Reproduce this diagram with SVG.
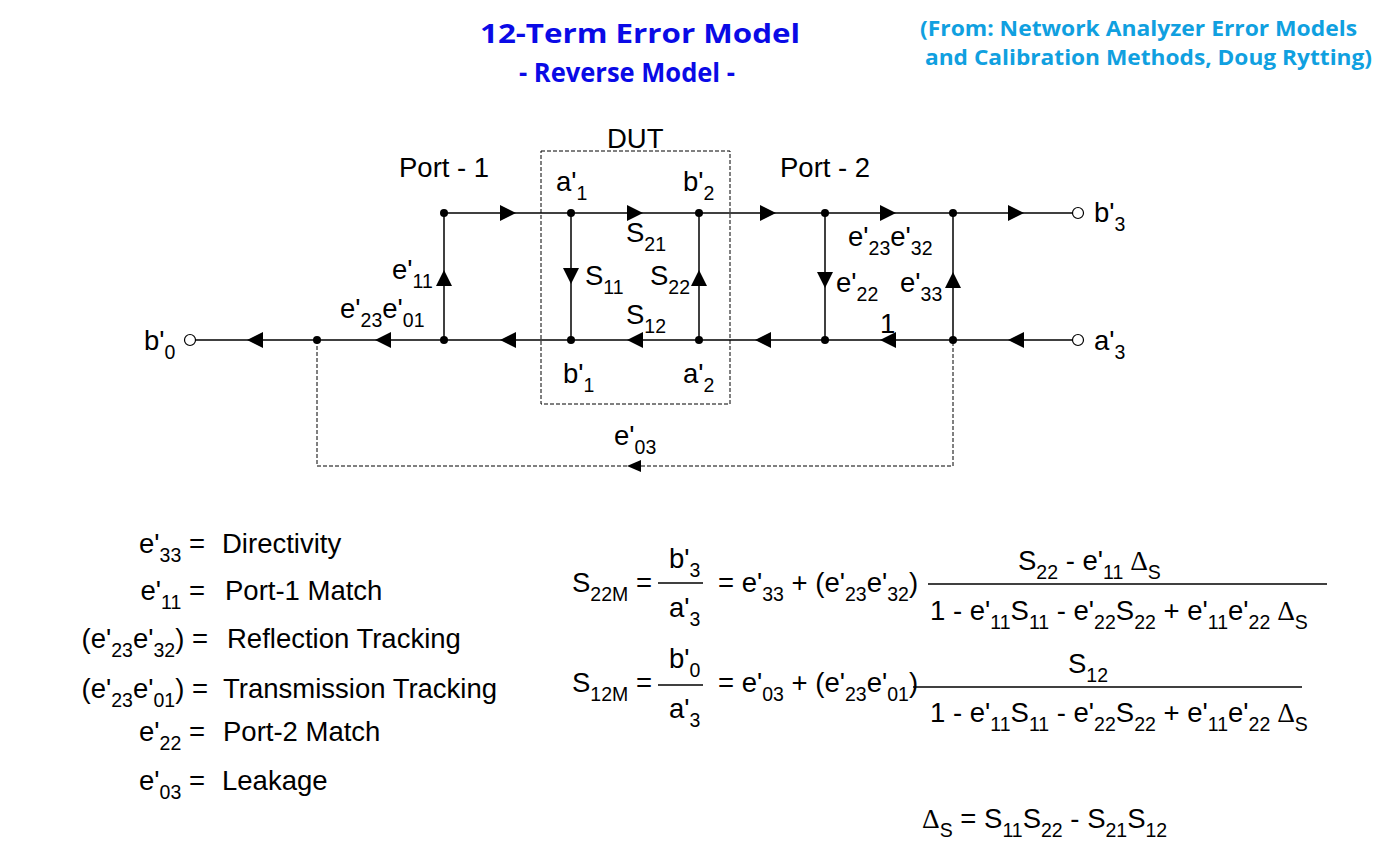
<svg xmlns="http://www.w3.org/2000/svg" width="1386" height="842" viewBox="0 0 1386 842">
<style>
text{font-family:"Liberation Sans",Arial,sans-serif;font-size:27.5px;fill:#000}
.s{font-size:19.5px}
.t{font-family:"Open Sans","Liberation Sans",sans-serif;font-weight:bold;fill:#0a0ae6}
.r{font-family:"Open Sans","Liberation Sans",sans-serif;font-weight:bold;fill:#10a0e0;font-size:22px}
.ln{stroke:#000;stroke-width:1.5;fill:none}
.d{stroke:#000;stroke-width:1;stroke-dasharray:4 2;fill:none}
.dl{font-family:"Liberation Serif",serif}
</style>
<defs>
<path id="ar" d="M-8,-8 L8,0 L-8,8 Z" fill="#000"/>
<circle id="dot" r="4" fill="#000"/>
</defs>
<text class="t" x="480" y="43" font-size="31" textLength="320" lengthAdjust="spacingAndGlyphs">12-Term Error Model</text>
<text class="t" x="519" y="82" font-size="22" textLength="216" lengthAdjust="spacingAndGlyphs">- Reverse Model -</text>
<text class="r" x="920" y="36" textLength="437" lengthAdjust="spacingAndGlyphs">(From: Network Analyzer Error Models</text>
<text class="r" x="925" y="65" textLength="447" lengthAdjust="spacingAndGlyphs">and Calibration Methods,  Doug Rytting)</text>
<g id="dut"><rect x="541" y="151" width="189" height="253" fill="#fbfbe9" class="d"/></g>
<g id="connectors">
<line class="ln" x1="444" y1="213" x2="1073" y2="213"/>
<line class="ln" x1="195" y1="340" x2="1073" y2="340"/>
<line class="ln" x1="444" y1="213" x2="444" y2="340"/>
<line class="ln" x1="571" y1="213" x2="571" y2="340"/>
<line class="ln" x1="699" y1="213" x2="699" y2="340"/>
<line class="ln" x1="825" y1="213" x2="825" y2="340"/>
<line class="ln" x1="953" y1="213" x2="953" y2="340"/>
<polyline class="d" points="317,340 317,466 953,466 953,340"/>
<use href="#ar" x="508" y="213"/><use href="#ar" x="635" y="213"/><use href="#ar" x="768" y="213"/><use href="#ar" x="888" y="213"/><use href="#ar" x="1016" y="213"/>
<use href="#ar" transform="translate(255,340) rotate(180)"/><use href="#ar" transform="translate(383,340) rotate(180)"/><use href="#ar" transform="translate(508,340) rotate(180)"/><use href="#ar" transform="translate(635,340) rotate(180)"/><use href="#ar" transform="translate(763,340) rotate(180)"/><use href="#ar" transform="translate(888,340) rotate(180)"/><use href="#ar" transform="translate(1016,340) rotate(180)"/>
<use href="#ar" transform="translate(444,278) rotate(-90)"/><use href="#ar" transform="translate(571,276) rotate(90)"/><use href="#ar" transform="translate(699,278) rotate(-90)"/><use href="#ar" transform="translate(825,280) rotate(90)"/><use href="#ar" transform="translate(953,280) rotate(-90)"/>
<path d="M627,466 L641,460 L641,472 Z" fill="#000"/>
</g>
<g id="nodes">
<use href="#dot" x="444" y="213"/><use href="#dot" x="571" y="213"/><use href="#dot" x="699" y="213"/><use href="#dot" x="825" y="213"/><use href="#dot" x="953" y="213"/>
<use href="#dot" x="317" y="340"/><use href="#dot" x="444" y="340"/><use href="#dot" x="571" y="340"/><use href="#dot" x="699" y="340"/><use href="#dot" x="825" y="340"/><use href="#dot" x="953" y="340"/>
<circle cx="190" cy="340" r="5.5" fill="#fff" stroke="#000" stroke-width="1.2"/>
<circle cx="1078" cy="213" r="5.5" fill="#fff" stroke="#000" stroke-width="1.2"/>
<circle cx="1078" cy="340" r="5.5" fill="#fff" stroke="#000" stroke-width="1.2"/>
</g>
<g id="labels">
<text x="399" y="177">Port - 1</text>
<text x="607" y="148">DUT</text>
<text x="780" y="177">Port - 2</text>
<text x="556" y="191">a'<tspan class="s" dy="9">1</tspan></text>
<text x="683" y="191">b'<tspan class="s" dy="9">2</tspan></text>
<text x="626" y="242">S<tspan class="s" dy="9">21</tspan></text>
<text x="585" y="285">S<tspan class="s" dy="9">11</tspan></text>
<text x="650" y="285">S<tspan class="s" dy="9">22</tspan></text>
<text x="626" y="324">S<tspan class="s" dy="9">12</tspan></text>
<text x="563" y="383">b'<tspan class="s" dy="9">1</tspan></text>
<text x="683" y="383">a'<tspan class="s" dy="9">2</tspan></text>
<text x="392" y="279">e'<tspan class="s" dy="9">11</tspan></text>
<text x="340" y="318">e'<tspan class="s" dy="9">23</tspan><tspan dy="-9">e'</tspan><tspan class="s" dy="9">01</tspan></text>
<text x="144" y="350">b'<tspan class="s" dy="9">0</tspan></text>
<text x="848" y="246">e'<tspan class="s" dy="9">23</tspan><tspan dy="-9">e'</tspan><tspan class="s" dy="9">32</tspan></text>
<text x="836" y="292">e'<tspan class="s" dy="9">22</tspan></text>
<text x="900" y="292">e'<tspan class="s" dy="9">33</tspan></text>
<text x="880" y="333">1</text>
<text x="1094" y="222">b'<tspan class="s" dy="9">3</tspan></text>
<text x="1094" y="350">a'<tspan class="s" dy="9">3</tspan></text>
<text x="614" y="445">e'<tspan class="s" dy="9">03</tspan></text>
</g>
<g id="legend">
<text x="205" y="553" text-anchor="end">e'<tspan class="s" dy="9">33</tspan><tspan dy="-9"> =</tspan></text><text x="222" y="553">Directivity</text>
<text x="205" y="600" text-anchor="end">e'<tspan class="s" dy="9">11</tspan><tspan dy="-9"> =</tspan></text><text x="225" y="600">Port-1 Match</text>
<text x="208" y="648" text-anchor="end">(e'<tspan class="s" dy="9">23</tspan><tspan dy="-9">e'</tspan><tspan class="s" dy="9">32</tspan><tspan dy="-9">) =</tspan></text><text x="227" y="648">Reflection Tracking</text>
<text x="208" y="698" text-anchor="end">(e'<tspan class="s" dy="9">23</tspan><tspan dy="-9">e'</tspan><tspan class="s" dy="9">01</tspan><tspan dy="-9">) =</tspan></text><text x="223" y="698">Transmission Tracking</text>
<text x="205" y="741" text-anchor="end">e'<tspan class="s" dy="9">22</tspan><tspan dy="-9"> =</tspan></text><text x="223" y="741">Port-2 Match</text>
<text x="205" y="790" text-anchor="end">e'<tspan class="s" dy="9">03</tspan><tspan dy="-9"> =</tspan></text><text x="222" y="790">Leakage</text>
</g>
<g id="eq1">
<text x="572" y="592">S<tspan class="s" dy="9">22M</tspan><tspan dy="-9"> =</tspan></text>
<line class="ln" x1="658" y1="583" x2="703" y2="583"/>
<text x="669" y="568">b'<tspan class="s" dy="9">3</tspan></text>
<text x="669" y="617">a'<tspan class="s" dy="9">3</tspan></text>
<text x="718" y="592">= e'<tspan class="s" dy="9">33</tspan><tspan dy="-9"> + (e'</tspan><tspan class="s" dy="9">23</tspan><tspan dy="-9">e'</tspan><tspan class="s" dy="9">32</tspan><tspan dy="-9">)</tspan></text>
<line class="ln" x1="928" y1="584" x2="1327" y2="584"/>
<text x="1018" y="570">S<tspan class="s" dy="9">22</tspan><tspan dy="-9"> - e'</tspan><tspan class="s" dy="9">11</tspan><tspan dy="-9" class="dl"> Δ</tspan><tspan class="s" dy="9">S</tspan></text>
<text x="930" y="620">1 - e'<tspan class="s" dy="9">11</tspan><tspan dy="-9">S</tspan><tspan class="s" dy="9">11</tspan><tspan dy="-9"> - e'</tspan><tspan class="s" dy="9">22</tspan><tspan dy="-9">S</tspan><tspan class="s" dy="9">22</tspan><tspan dy="-9"> + e'</tspan><tspan class="s" dy="9">11</tspan><tspan dy="-9">e'</tspan><tspan class="s" dy="9">22</tspan><tspan dy="-9" class="dl"> Δ</tspan><tspan class="s" dy="9">S</tspan></text>
</g>
<g id="eq2">
<text x="572" y="692">S<tspan class="s" dy="9">12M</tspan><tspan dy="-9"> =</tspan></text>
<line class="ln" x1="658" y1="685" x2="703" y2="685"/>
<text x="669" y="668">b'<tspan class="s" dy="9">0</tspan></text>
<text x="669" y="718">a'<tspan class="s" dy="9">3</tspan></text>
<text x="718" y="692">= e'<tspan class="s" dy="9">03</tspan><tspan dy="-9"> + (e'</tspan><tspan class="s" dy="9">23</tspan><tspan dy="-9">e'</tspan><tspan class="s" dy="9">01</tspan><tspan dy="-9">)</tspan></text>
<line class="ln" x1="913" y1="687" x2="1302" y2="687"/>
<text x="1068" y="673">S<tspan class="s" dy="9">12</tspan></text>
<text x="930" y="722">1 - e'<tspan class="s" dy="9">11</tspan><tspan dy="-9">S</tspan><tspan class="s" dy="9">11</tspan><tspan dy="-9"> - e'</tspan><tspan class="s" dy="9">22</tspan><tspan dy="-9">S</tspan><tspan class="s" dy="9">22</tspan><tspan dy="-9"> + e'</tspan><tspan class="s" dy="9">11</tspan><tspan dy="-9">e'</tspan><tspan class="s" dy="9">22</tspan><tspan dy="-9" class="dl"> Δ</tspan><tspan class="s" dy="9">S</tspan></text>
</g>
<g id="eq3">
<text x="922" y="828"><tspan class="dl">Δ</tspan><tspan class="s" dy="9">S</tspan><tspan dy="-9"> = S</tspan><tspan class="s" dy="9">11</tspan><tspan dy="-9">S</tspan><tspan class="s" dy="9">22</tspan><tspan dy="-9"> - S</tspan><tspan class="s" dy="9">21</tspan><tspan dy="-9">S</tspan><tspan class="s" dy="9">12</tspan></text>
</g>
</svg>
